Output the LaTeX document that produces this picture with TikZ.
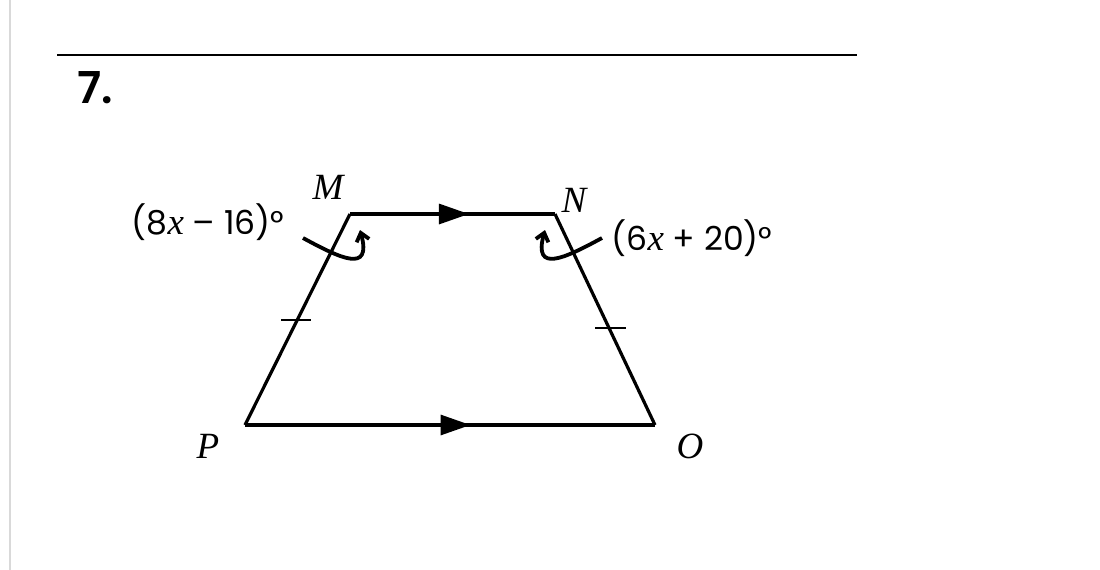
\documentclass[tikz,border=0pt]{standalone}
\usepackage{fontspec}
\setmainfont{Liberation Serif}
\newfontfamily\lblfont{Poppins}
\newfontfamily\numfont{Poppins SemiBold}
\usetikzlibrary{decorations.markings,arrows.meta}
\begin{document}
\begin{tikzpicture}[x=1pt,y=-1pt,
  side/.style={line width=3.2pt},
  midarrow/.style={postaction={decorate},decoration={markings,mark=at position #1 with {\arrow{Triangle[length=30pt,width=20pt]}}}},
  tick/.style={line width=1.8pt},
  vlabel/.style={font=\fontsize{37}{40}\selectfont\itshape},
  alabel/.style={font=\fontsize{33}{36}\selectfont\lblfont},
  angarc/.style={line width=3.8pt,-{Straight Barb[length=8pt,width=13pt]}}]
\useasboundingbox (0,0) rectangle (1100,570);
\draw[gray!30,line width=2pt] (10,0) -- (10,570);
\draw[line width=2.6pt] (57,55) -- (857,55);
\node[font=\fontsize{44}{48}\selectfont\numfont] (num) at (95,88) {7.};
\coordinate (M) at (350,214);
\coordinate (N) at (555,214);
\coordinate (O) at (655,425);
\coordinate (P) at (245,425);
\draw[side,midarrow=0.58] (M) -- (N);
\draw[side,midarrow=0.55] (P) -- (O);
\draw[side] (M) -- (P);
\draw[side] (N) -- (O);
\draw[tick] (281,320) -- (311,320);
\draw[tick] (595,328) -- (626,328);
\draw[angarc] (303,238) .. controls (340,258) and (372,274) .. (360,230);
\draw[angarc] (602,238) .. controls (565,258) and (533,274) .. (545,230);
\node[vlabel] (lm) at (328,187) {M};
\node[vlabel] (ln) at (574,200) {N};
\node[vlabel] (lp) at (208,446) {P};
\node[vlabel] (lo) at (690,446) {O};
\node[alabel] (a1) at (208,222) {(8{\fontsize{37}{40}\selectfont\fontspec{Liberation Serif}\itshape x} – 16)°};
\node[alabel] (a2) at (692,238) {(6{\fontsize{37}{40}\selectfont\fontspec{Liberation Serif}\itshape x} + 20)°};
\end{tikzpicture}
\end{document}
